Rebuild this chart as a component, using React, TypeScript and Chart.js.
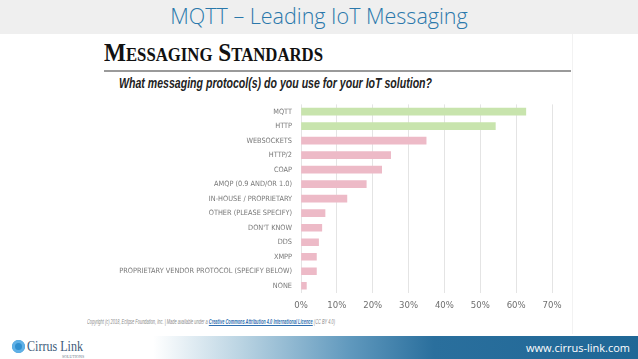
import React, { useEffect, useLayoutEffect, useRef } from "react";
import { Chart, registerables } from "chart.js";

Chart.register(...registerables);

const categories = [
  "MQTT",
  "HTTP",
  "WEBSOCKETS",
  "HTTP/2",
  "COAP",
  "AMQP (0.9 AND/OR 1.0)",
  "IN-HOUSE / PROPRIETARY",
  "OTHER (PLEASE SPECIFY)",
  "DON'T KNOW",
  "DDS",
  "XMPP",
  "PROPRIETARY VENDOR PROTOCOL (SPECIFY BELOW)",
  "NONE",
];
const values = [62.7, 54.2, 34.9, 25.0, 22.5, 18.2, 12.8, 6.7, 5.8, 4.9, 4.3, 4.3, 1.5];
const highlighted = ["MQTT", "HTTP"];
const xTicks = [0, 10, 20, 30, 40, 50, 60, 70];

const GREEN = "#c8e4ad";
const PINK = "#edbac7";
const NARROW = "'DejaVu Sans Condensed', 'DejaVu Sans', sans-serif";

function FitText(props: { width: number; style: React.CSSProperties; children: React.ReactNode }) {
  const ref = useRef<HTMLDivElement | null>(null);
  useLayoutEffect(() => {
    const el = ref.current;
    if (!el) return;
    el.style.transform = "none";
    const w = el.getBoundingClientRect().width;
    if (w > 0) el.style.transform = `scaleX(${props.width / w})`;
  });
  return (
    <div
      ref={ref}
      style={{
        position: "absolute",
        whiteSpace: "nowrap",
        transformOrigin: "0 0",
        display: "inline-block",
        ...props.style,
      }}
    >
      {props.children}
    </div>
  );
}

export default function App() {
  const ref = useRef<HTMLCanvasElement | null>(null);

  useEffect(() => {
    if (!ref.current) return;
    const chart = new Chart(ref.current, {
      type: "bar",
      data: {
        labels: categories,
        datasets: [
          {
            data: values,
            backgroundColor: categories.map((c) => (highlighted.includes(c) ? GREEN : PINK)),
            barThickness: 7,
            borderWidth: 0,
          },
        ],
      },
      options: {
        indexAxis: "y",
        animation: false,
        responsive: false,
        devicePixelRatio: 1,
        layout: { padding: { top: 0, right: 23, left: 0, bottom: 0 } },
        plugins: { legend: { display: false }, tooltip: { enabled: false } },
        scales: {
          x: {
            min: 0,
            max: 70,
            afterFit: (s: any) => {
              s.height = 22;
            },
            afterBuildTicks: (s: any) => {
              s.ticks = xTicks.map((v) => ({ value: v }));
            },
            grid: { color: "#e4e4e4", drawTicks: false },
            border: { display: false },
            ticks: {
              padding: 7,
              color: "#6f6f6f",
              font: { family: NARROW, size: 9.5 },
              callback: (v: any) => v + "%",
            },
          },
          y: {
            afterFit: (s: any) => {
              s.width = 211;
            },
            grid: { display: false, drawTicks: false },
            border: { display: false },
            ticks: {
              padding: 9,
              color: "#777777",
              autoSkip: false,
              font: { family: NARROW, size: 7.3 },
            },
          },
        },
      },
    });
    return () => chart.destroy();
  }, []);

  return (
    <div
      style={{
        position: "absolute",
        left: 0,
        top: 0,
        width: 638,
        height: 359,
        overflow: "hidden",
        background: "#ffffff",
        fontFamily: "'Open Sans', sans-serif",
      }}
    >
      <div style={{ position: "absolute", left: 0, top: 0, width: 638, height: 34, background: "#efefef" }} />
      <div
        style={{
          position: "absolute",
          left: 0,
          top: 1,
          width: 638,
          textAlign: "center",
          fontFamily: "'Open Sans', sans-serif",
          fontWeight: 300,
          fontSize: 21.5,
          color: "#2a78ab",
          lineHeight: "30px",
        }}
      >
        MQTT – Leading IoT Messaging
      </div>
      <div style={{ position: "absolute", left: 572, top: 34, width: 1, height: 300, background: "#f2f2f2" }} />
      <FitText
        width={219}
        style={{
          left: 104,
          top: 38,
          fontFamily: "'Liberation Serif', serif",
          fontWeight: 700,
          fontSize: 25,
          fontVariant: "small-caps",
          color: "#111",
          lineHeight: "30px",
        }}
      >
        Messaging Standards
      </FitText>
      <div style={{ position: "absolute", left: 104, top: 70, width: 467, height: 2, background: "#9a9a9a" }} />
      <FitText
        width={313}
        style={{
          left: 119,
          top: 74,
          fontFamily: "'Liberation Sans', sans-serif",
          fontStyle: "italic",
          fontWeight: 700,
          fontSize: 15,
          color: "#222",
          lineHeight: "18px",
        }}
      >
        What messaging protocol(s) do you use for your IoT solution?
      </FitText>
      <canvas
        ref={ref}
        width={485}
        height={224}
        style={{ position: "absolute", left: 90, top: 91, width: 485, height: 224 }}
      />
      <FitText
        width={248}
        style={{
          left: 87,
          top: 318,
          fontFamily: "'Liberation Sans', sans-serif",
          fontStyle: "italic",
          fontSize: 6.5,
          color: "#8a8a8a",
          lineHeight: "8px",
        }}
      >
        Copyright (c) 2018, Eclipse Foundation, Inc. | Made available under a{" "}
        <span style={{ color: "#2f6fb0", textDecoration: "underline", fontWeight: 700 }}>
          Creative Commons Attribution 4.0 International Licence
        </span>{" "}
        (CC BY 4.0)
      </FitText>
      <div
        style={{
          position: "absolute",
          left: 0,
          top: 336,
          width: 638,
          height: 23,
          background:
            "linear-gradient(90deg, #ffffff 0%, #ffffff 24%, #b9d3e2 38%, #5f98bd 55%, #2a6f9d 68%, #1f6796 100%)",
        }}
      />
      <div
        style={{
          position: "absolute",
          right: 8,
          top: 340,
          fontFamily: "'Open Sans', sans-serif",
          fontSize: 11,
          color: "#ffffff",
          lineHeight: "15px",
        }}
      >
        www.cirrus-link.com
      </div>
      <div
        style={{
          position: "absolute",
          left: 12,
          top: 340,
          width: 13,
          height: 13,
          borderRadius: "50%",
          background: "#2f8fd0",
          boxShadow: "inset 0 0 0 3px #5fb0e6",
        }}
      />
      <FitText
        width={56}
        style={{
          left: 27,
          top: 337,
          fontFamily: "'Liberation Serif', serif",
          fontSize: 15,
          color: "#3d5a78",
          lineHeight: "18px",
        }}
      >
        Cirrus Link
      </FitText>
      <div
        style={{
          position: "absolute",
          left: 62,
          top: 354,
          fontFamily: "'Liberation Serif', serif",
          fontSize: 4,
          color: "#6a7a8a",
          lineHeight: "5px",
        }}
      >
        SOLUTIONS
      </div>
    </div>
  );
}
